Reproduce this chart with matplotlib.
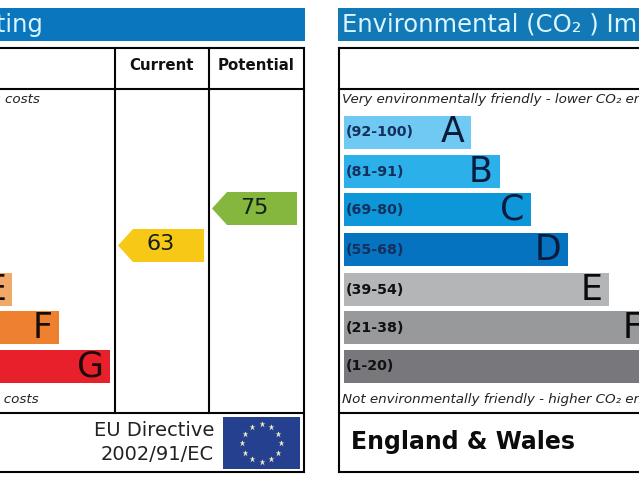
import numpy as np
from matplotlib import pyplot as plt
from matplotlib.patches import Polygon, Rectangle

plt.rcParams['font.family'] = ['DejaVu Sans']

# band data
letters = ['A', 'B', 'C', 'D', 'E', 'F', 'G']
ranges = ['(92-100)', '(81-91)', '(69-80)', '(55-68)', '(39-54)', '(21-38)', '(1-20)']
energy_ends = [-160, -120, -80, -40, 12, 59, 110]
energy_colors = ['#00a651', '#3cb54a', '#8dc63f', '#f5d800', '#efaa6a', '#ee8130', '#e8202c']
env_ends = [471, 500, 531, 568, 609, 650, 690]
env_colors = ['#6fc9f2', '#2bb0ea', '#0d96d8', '#0573bf', '#b4b5b7', '#98999b', '#78787c']
env_text = ['#14305e', '#14305e', '#14305e', '#14305e', '#111111', '#111111', '#111111']
current = 63
potential = 75
current_color = '#f7c815'
potential_color = '#85b63e'

bar_tops = np.array([116, 155, 193, 233, 273, 311, 350])
bar_h = 33
blue_l = '#0a76bd'
blue_r = '#1279b6'
title_c = '#d9f5ff'

fig = plt.figure(figsize=(6.39, 4.80), dpi=100)
ax = fig.add_axes([0, 0, 1, 1])
ax.set_xlim(0, 639)
ax.set_ylim(480, 0)
ax.axis('off')


def line(x0, y0, x1, y1):
    ax.plot([x0, x1], [y0, y1], color='#050505', lw=1.5, solid_capstyle='projecting')


def arrow(value, left, right, top, color):
    h = 33
    pts = [(left, top + h / 2), (left + 15, top), (right, top), (right, top + h), (left + 15, top + h)]
    ax.add_patch(Polygon(pts, closed=True, fc=color, ec='none'))
    ax.text((left + right) / 2, top + h / 2 - 1, str(value), fontsize=16, color='#10201a',
            ha='center', va='center')


# title strips
ax.add_patch(Rectangle((0, 8), 305, 33, fc=blue_l, ec='none'))
ax.add_patch(Rectangle((338, 8), 301, 33, fc=blue_r, ec='none'))
ax.text(43, 25, 'Energy Efficiency Rating', fontsize=17.5, color=title_c, ha='right', va='center')
ax.text(342, 25, 'Environmental (CO\u2082 ) Impact Rating', fontsize=17.5, color=title_c, ha='left', va='center')

# left table
line(0, 48, 304, 48)
line(0, 89, 304, 89)
line(0, 413, 304, 413)
line(0, 472, 304, 472)
line(304, 48, 304, 472)
line(115, 48, 115, 413)
line(209, 48, 209, 413)
ax.text(162, 66, 'Current', fontsize=10.8, fontweight='bold', color='#111111', ha='center', va='center')
ax.text(256, 66, 'Potential', fontsize=10.8, fontweight='bold', color='#111111', ha='center', va='center')
ax.text(40, 100, 'Very energy efficient - lower running costs', fontsize=9.7, style='italic',
        color='#222222', ha='right', va='center')
ax.text(39, 400, 'Not energy efficient - higher running costs', fontsize=9.7, style='italic',
        color='#222222', ha='right', va='center')

# energy bars run off the left edge, only E F G show
ax.barh(bar_tops[4:] + bar_h / 2, np.array(energy_ends[4:]) + 100, left=-100, height=bar_h,
        color=energy_colors[4:])
for i in range(4, 7):
    ax.text(energy_ends[i] - 6, bar_tops[i] + bar_h / 2, letters[i], fontsize=25, color='#1a0a08',
            ha='right', va='center')

arrow(potential, 212, 297, 192, potential_color)
arrow(current, 118, 204, 229, current_color)

# eu footer
ax.text(214, 431, 'EU Directive', fontsize=14, color='#222222', ha='right', va='center')
ax.text(214, 454, '2002/91/EC', fontsize=14, color='#222222', ha='right', va='center')
ax.add_patch(Rectangle((223, 417), 77, 52, fc='#25408f', ec='none'))
ang = np.arange(12) * np.pi / 6
ax.plot(261.5 + 19.5 * np.sin(ang), 443 - 19 * np.cos(ang), ls='none', marker='*', ms=5,
        color='#f4efc0', mec='none')

# right table, runs off the right edge
line(339, 48, 650, 48)
line(339, 89, 650, 89)
line(339, 413, 650, 413)
line(339, 472, 650, 472)
line(339, 48, 339, 472)
ax.text(342, 100, 'Very environmentally friendly - lower CO\u2082 emissions', fontsize=9.7, style='italic',
        color='#222222', ha='left', va='center')
ax.text(342, 400, 'Not environmentally friendly - higher CO\u2082 emissions', fontsize=9.7, style='italic',
        color='#222222', ha='left', va='center')

ax.barh(bar_tops + bar_h / 2, np.array(env_ends) - 344, left=344, height=bar_h, color=env_colors)
for i in range(7):
    ax.text(346, bar_tops[i] + bar_h / 2, ranges[i], fontsize=10.3, fontweight='bold', color=env_text[i],
            ha='left', va='center')
    ax.text(env_ends[i] - 7, bar_tops[i] + bar_h / 2, letters[i], fontsize=25, color='#0c1a3c' if i < 4 else '#0a0a0a',
            ha='right', va='center')

ax.text(351, 442, 'England & Wales', fontsize=17, fontweight='bold', color='#0c0c0c', ha='left', va='center')

fig.savefig('out.png', dpi=100)
